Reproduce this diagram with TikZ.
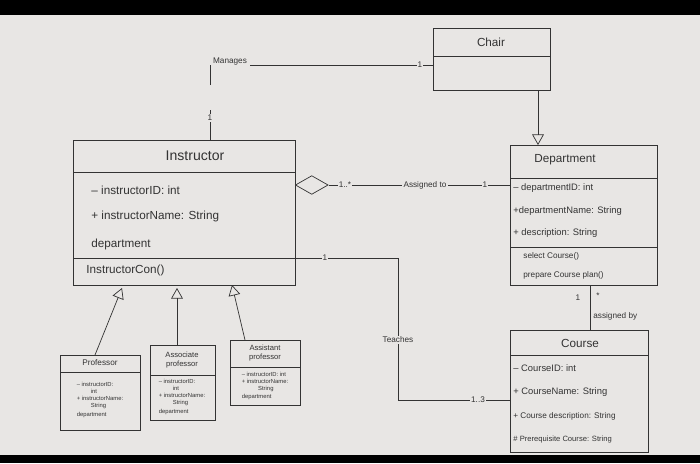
\documentclass[tikz,border=0pt]{standalone}
\usepackage{fontspec}
\setmainfont{Liberation Sans}
\usetikzlibrary{arrows.meta,shapes.geometric}
\begin{document}
\begin{tikzpicture}[x=0.03cm,y=-0.03cm,
  ink/.style={draw=black!80,line width=0.6pt},
  t/.style={font=\fontsize{10}{11}\selectfont,text=black!80,inner sep=1pt},
  ts/.style={font=\fontsize{5}{6}\selectfont,text=black!80,inner sep=0.5pt,align=left},
  lbl/.style={font=\fontsize{7}{8}\selectfont,text=black!80,inner sep=1pt,fill=paper},
  gen/.style={-{Triangle[open,length=9pt,width=10pt]}}]
\definecolor{paper}{RGB}{232,230,228}
\fill[black] (0,0) rectangle (700,463);
\fill[paper] (0,15) rectangle (700,455);
\useasboundingbox (0,0) rectangle (700,463);
% Chair
\draw[ink] (433,28) rectangle (550,90); \draw[ink] (433,56)--(550,56);
\node[t] (chair) at (491,42) {Chair};
\coordinate (chairL) at (433,65); \coordinate (chairB) at (538,90);
% Instructor
\draw[ink] (73,140) rectangle (295,285); \draw[ink] (73,172)--(295,172); \draw[ink] (73,258)--(295,258);
\node[t,font=\fontsize{12}{13}\selectfont] (inst) at (195,156) {Instructor};
\node[t,anchor=west] (ia1) at (90,190) {– instructorID: int};
\node[t,anchor=west] (ia2) at (90,216) {+ instructorName: String};
\node[t,anchor=west] (ia3) at (90,244) {department};
\node[t,anchor=west] (im1) at (85,270) {InstructorCon()};
\coordinate (instT) at (210,140);
% Department
\draw[ink] (510,145) rectangle (657,285); \draw[ink] (510,178)--(657,178); \draw[ink] (510,247)--(657,247);
\node[t] (dep) at (565,160) {Department};
\node[t,anchor=west,font=\fontsize{8}{9}\selectfont] (da1) at (512,188) {– departmentID: int};
\node[t,anchor=west,font=\fontsize{8}{9}\selectfont] (da2) at (512,211) {+departmentName: String};
\node[t,anchor=west,font=\fontsize{8}{9}\selectfont] (da3) at (512,233) {+ description: String};
\node[t,anchor=west,font=\fontsize{7}{8}\selectfont] (dm1) at (522,256) {select Course()};
\node[t,anchor=west,font=\fontsize{7}{8}\selectfont] (dm2) at (522,275) {prepare Course plan()};
% Course
\draw[ink] (510,330) rectangle (648,452); \draw[ink] (510,355)--(648,355);
\node[t] (course) at (580,343) {Course};
\node[t,anchor=west,font=\fontsize{8}{9}\selectfont] (ca1) at (512,368) {– CourseID: int};
\node[t,anchor=west,font=\fontsize{8}{9}\selectfont] (ca2) at (512,392) {+ CourseName: String};
\node[t,anchor=west,font=\fontsize{7}{8}\selectfont] (ca3) at (512,416) {+ Course description: String};
\node[t,anchor=west,font=\fontsize{6.5}{8}\selectfont] (ca4) at (512,440) {\# Prerequisite Course: String};
% Manages
\coordinate (mc) at (210,65);
\draw[ink] (instT)--(210,110); \draw[ink] (210,85)--(mc);
\node[lbl] (one1) at (210,118) {1};
\draw[ink] (250,65)--(chairL);
\node[lbl] (man) at (230,62) {Manages};
\node[lbl] (one2) at (420,65) {1};
% Generalization chair -> department
\draw[ink,gen] (chairB)--(538,145);
% Assigned to
\node[draw=black!80,line width=0.6pt,diamond,minimum width=28pt,minimum height=16pt,inner sep=0pt,fill=paper,anchor=west] (dia) at (295,185) {};
\draw[ink] (dia.east)--(510,185);
\node[lbl] (m1) at (345,185) {1..*};
\node[lbl] (asg) at (425,185) {Assigned to};
\node[lbl] (m2) at (485,185) {1};
% assigned by
\draw[ink] (590,285)--(590,330);
\node[lbl,fill=none] (ab1) at (578,298) {1};
\node[lbl,fill=none] (ab2) at (598,296) {*};
\node[lbl,anchor=west] (ab3) at (592,316) {assigned by};
% Teaches
\coordinate (tA) at (295,258); \coordinate (tB) at (398,258); \coordinate (tC) at (398,400); \coordinate (tD) at (510,400);
\draw[ink] (tA)--(tB)--(tC)--(tD);
\node[lbl] (tone) at (325,258) {1};
\node[lbl] (teach) at (398,340) {Teaches};
\node[lbl] (t13) at (478,400) {1..3};
% subclasses
\draw[ink] (60,355) rectangle (140,430); \draw[ink] (60,372)--(140,372);
\node[t,font=\fontsize{7}{8}\selectfont] (prof) at (100,363) {Professor};
\node[ts] (pa) at (100,400) {– instructorID:\\ \hspace*{12pt}int\\+ instructorName:\\ \hspace*{12pt}String\\[1pt] department};
\draw[ink] (150,345) rectangle (215,420); \draw[ink] (150,375)--(215,375);
\node[t,font=\fontsize{6.5}{7.5}\selectfont,align=center] (asso) at (182,360) {Associate\\professor};
\node[ts] (aa) at (182,397) {– instructorID:\\ \hspace*{12pt}int\\+ instructorName:\\ \hspace*{12pt}String\\[1pt] department};
\draw[ink] (230,340) rectangle (300,405); \draw[ink] (230,367)--(300,367);
\node[t,font=\fontsize{6.5}{7.5}\selectfont,align=center] (assi) at (265,353) {Assistant\\professor};
\node[ts] (sa) at (265,386) {– instructorID: int\\+ instructorName:\\ \hspace*{14pt}String\\[1pt] department};
\draw[ink,gen] (95,355)--(122,288);
\draw[ink,gen] (177,345)--(177,288);
\draw[ink,gen] (245,340)--(232,285);
\end{tikzpicture}
\end{document}
